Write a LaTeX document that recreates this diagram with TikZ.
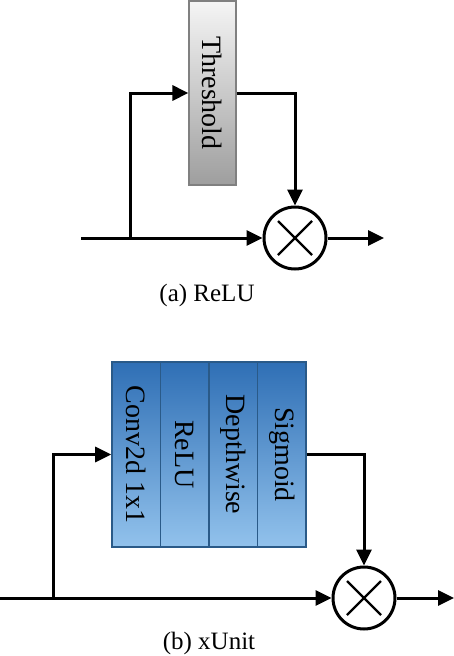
\documentclass[tikz,border=0pt]{standalone}
\usepackage{fontspec}
\setmainfont{Liberation Serif}
\usetikzlibrary{arrows.meta}

\definecolor{blocktop}{HTML}{2F6FB5}
\definecolor{blockbot}{HTML}{92C2EC}
\definecolor{blockline}{HTML}{2A5A88}

\tikzset{
	flow/.style={line width=3pt, -{Triangle[length=16pt,width=15pt]}},
	grayblock/.style={draw=black!50, line width=1.2pt, top color=black!4, bottom color=black!38, minimum width=47pt, minimum height=184pt, inner sep=0pt},
	blueblock/.style={draw=blockline, line width=1.6pt, top color=blocktop, bottom color=blockbot, minimum width=48.5pt, minimum height=185pt, inner sep=0pt},
	vtext/.style={rotate=-90, font=\fontsize{28}{30}\selectfont, inner sep=0pt},
	mult/.style={draw, circle, line width=3pt, minimum size=62pt, inner sep=0pt,
		path picture={\draw[line width=2.4pt] (path picture bounding box.center) ++(-17pt,-17pt) -- ++(34pt,34pt);
			\draw[line width=2.4pt] (path picture bounding box.center) ++(-17pt,17pt) -- ++(34pt,-34pt);}},
	caption/.style={font=\fontsize{25}{27}\selectfont}
}

\begin{document}
\begin{tikzpicture}[x=1pt, y=-1pt]

		\useasboundingbox (0,0) rectangle (454,656);

		% (a) ReLU
		\node [grayblock] (thr) at (212.5,93) {};
		\node [vtext] (thrtext) at (thr) {Threshold};
		\node [mult] (mulA) at (295,238) {};
		\coordinate (inA) at (81,238);
		\coordinate (splitA) at (130,238);
		\coordinate (outA) at (384,238);

		\draw [flow] (inA) -- (mulA);
		\draw [flow] (splitA) |- (thr.west);
		\draw [flow] (thr.east) -| (mulA.north);
		\draw [flow] (mulA.east) -- (outA);

		\node [caption] (capA) at (207,295) {(a) ReLU};

		% (b) xUnit
		\node [blueblock] (conv) at (136.25,454.5) {};
		\node [blueblock] (relu) at (184.75,454.5) {};
		\node [blueblock] (dw) at (233.25,454.5) {};
		\node [blueblock] (sig) at (281.75,454.5) {};
		\node [vtext] (convtext) at (conv) {Conv2d 1x1};
		\node [vtext] (relutext) at (relu) {ReLU};
		\node [vtext] (dwtext) at (dw) {Depthwise};
		\node [vtext] (sigtext) at (sig) {Sigmoid};
		\node [mult] (mulB) at (364,598) {};
		\coordinate (inB) at (0,598);
		\coordinate (splitB) at (53,598);
		\coordinate (outB) at (454,598);

		\draw [flow] (inB) -- (mulB);
		\draw [flow] (splitB) |- (conv.west);
		\draw [flow] (sig.east) -| (mulB.north);
		\draw [flow] (mulB.east) -- (outB);

		\node [caption] (capB) at (209,643) {(b) xUnit};

\end{tikzpicture}
\end{document}
